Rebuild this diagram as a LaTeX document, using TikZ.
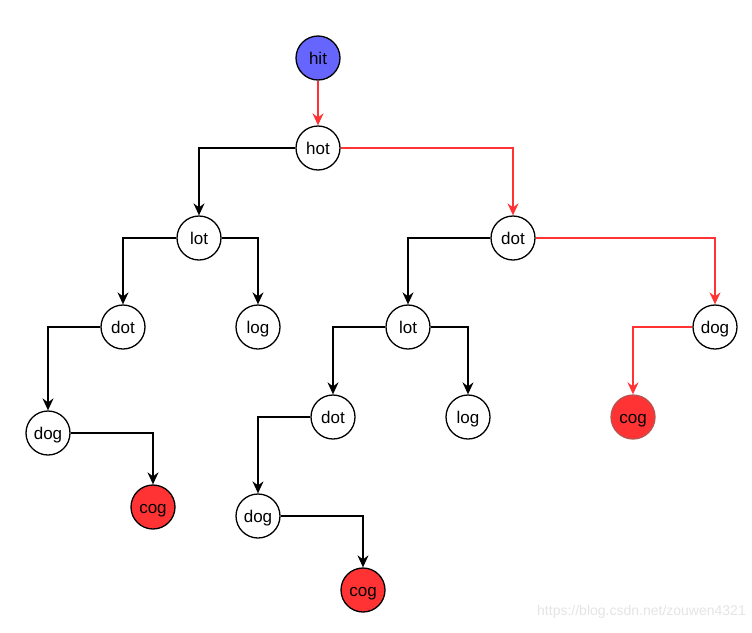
\documentclass[tikz,border=0pt]{standalone}
\usepackage{fontspec}
\setmainfont{Liberation Sans}
\usetikzlibrary{arrows.meta,calc}
\definecolor{HitBlue}{RGB}{102, 102, 255}
\definecolor{CogRed}{RGB}{255, 51, 51}
\definecolor{PathRed}{RGB}{255, 51, 51}
\definecolor{CogEdge}{RGB}{184, 84, 80}
\definecolor{Mark}{RGB}{228, 228, 228}

\tikzset{
    word/.style = {circle, draw, line width=1.3pt, fill=white, minimum size=44pt,
                   inner sep=0pt, text height=13pt, text depth=1pt,
                   font=\fontsize{17pt}{19pt}\selectfont},
    goal/.style = {word, fill=CogRed},
    link/.style = {line width=1.4pt, -{Stealth[length=12pt,width=11pt,inset=4pt]}},
    path/.style = {link, draw=PathRed, color=PathRed}
}

\begin{document}
\begin{tikzpicture}[x=1pt, y=-1pt]
    \useasboundingbox (0,0) rectangle (752,632);
    % Nodes
    \node[word, fill=HitBlue] (hit) at (318,58) {hit};
    \node[word] (hot) at (318,148) {hot};
    \node[word] (lot1) at (199,238) {lot};
    \node[word] (dot1) at (513,238) {dot};
    \node[word] (dot2) at (123,327) {dot};
    \node[word] (log1) at (258,327) {log};
    \node[word] (lot2) at (408,327) {lot};
    \node[word] (dog1) at (715,327) {dog};
    \node[word] (dog2) at (48,433) {dog};
    \node[word] (dot3) at (333,417) {dot};
    \node[word] (log2) at (468,417) {log};
    \node[goal, draw=CogEdge] (cog1) at (633,417) {cog};
    \node[goal] (cog2) at (153,507) {cog};
    \node[word] (dog3) at (258,516) {dog};
    \node[goal] (cog3) at (363,590) {cog};
    % Edges
    \draw[path] (hit) -- (hot);
    \draw[link] (hot.west) -| (lot1.north);
    \draw[path] (hot.east) -| (dot1.north);
    \draw[link] (lot1.west) -| (dot2.north);
    \draw[link] (lot1.east) -| (log1.north);
    \draw[link] (dot1.west) -| (lot2.north);
    \draw[path] (dot1.east) -| (dog1.north);
    \draw[link] (dot2.west) -| (dog2.north);
    \draw[link] (dog2.east) -| (cog2.north);
    \draw[link] (lot2.west) -| (dot3.north);
    \draw[link] (lot2.east) -| (log2.north);
    \draw[path] (dog1.west) -| (cog1.north);
    \draw[link] (dot3.west) -| (dog3.north);
    \draw[link] (dog3.east) -| (cog3.north);
    % Watermark
    \node[anchor=east, text=Mark, font=\fontsize{14pt}{16pt}\selectfont, inner sep=0pt]
        (mark) at (746,612) {https://blog.csdn.net/zouwen4321};
\end{tikzpicture}
\end{document}
